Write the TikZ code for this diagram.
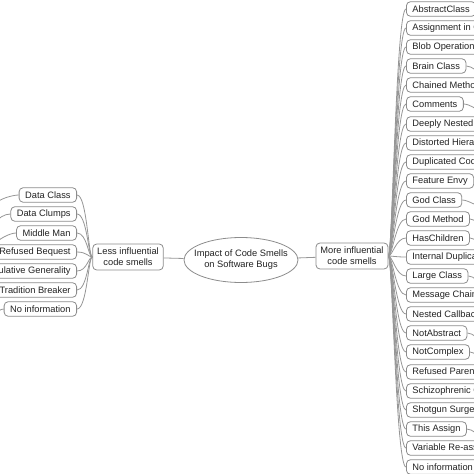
\documentclass[tikz,border=0pt]{standalone}
\usepackage{fontspec}
\setmainfont{Liberation Sans}
\usetikzlibrary{shapes.geometric}
\definecolor{mapline}{RGB}{150,150,150}
\definecolor{mapborder}{RGB}{140,140,140}
\definecolor{maptext}{RGB}{35,35,35}

\begin{document}
\begin{tikzpicture}[
    x=1pt, y=-1pt,
    topic/.style={ellipse, draw=mapborder, fill=white, line width=0.8pt,
                  minimum width=114pt, minimum height=45pt, inner xsep=-7pt,
                  inner ysep=0pt, align=center, text=maptext,
                  font=\fontsize{9.3}{11}\selectfont},
    branch/.style={rectangle, rounded corners=4pt, draw=mapborder, fill=white,
                   line width=0.8pt, minimum height=26pt, inner xsep=4.5pt,
                   align=center, text=maptext, font=\fontsize{9.3}{11}\selectfont},
    leaf/.style={rectangle, rounded corners=4pt, draw=mapborder, fill=white,
                 line width=0.8pt, minimum height=14.5pt, inner xsep=6pt,
                 inner ysep=1pt, text=maptext, font=\fontsize{9.3}{10}\selectfont},
    lleaf/.style={leaf, anchor=east},
    rleaf/.style={leaf, anchor=west},
    link/.style={draw=mapline, line width=0.8pt},
]
\useasboundingbox (0,0) rectangle (474,474);
\clip (0,0) rectangle (474,474);

% centre and the two branches
\node[topic] (impact) at (241,260) {Impact of Code Smells\\on Software Bugs};
\node[branch] (less) at (128,257) {Less influential\\code smells};
\node[branch] (more) at (352,256) {More influential\\code smells};

% less influential
\node[lleaf] (dataclass) at (77,195) {Data Class};
\node[lleaf] (clumps) at (77,214) {Data Clumps};
\node[lleaf] (middle) at (77,233) {Middle Man};
\node[lleaf] (bequest) at (77,252) {Refused Bequest};
\node[lleaf] (specgen) at (77,271) {Speculative Generality};
\node[lleaf] (tradition) at (77,290) {Tradition Breaker};
\node[lleaf] (noinfoL) at (77,309) {No information};

% more influential
\node[rleaf] (abstract) at (406,9) {AbstractClass};
\node[rleaf] (assign) at (406,28) {Assignment in Conditional Statements};
\node[rleaf] (blob) at (406,47) {Blob Operation};
\node[rleaf] (brain) at (406,66) {Brain Class};
\node[rleaf] (chained) at (406,85) {Chained Methods};
\node[rleaf] (comments) at (406,104) {Comments};
\node[rleaf] (deeply) at (406,124) {Deeply Nested Code};
\node[rleaf] (distorted) at (406,143) {Distorted Hierarchy};
\node[rleaf] (duplicated) at (406,162) {Duplicated Code};
\node[rleaf] (envy) at (406,181) {Feature Envy};
\node[rleaf] (godclass) at (406,200) {God Class};
\node[rleaf] (godmethod) at (406,219) {God Method};
\node[rleaf] (children) at (406,238) {HasChildren};
\node[rleaf] (internal) at (406,257) {Internal Duplication};
\node[rleaf] (large) at (406,276) {Large Class};
\node[rleaf] (message) at (406,295) {Message Chains};
\node[rleaf] (callback) at (406,314) {Nested Callbacks};
\node[rleaf] (notabstract) at (406,333) {NotAbstract};
\node[rleaf] (notcomplex) at (406,352) {NotComplex};
\node[rleaf] (refparent) at (406,372) {Refused Parent Bequest};
\node[rleaf] (schizo) at (406,391) {Schizophrenic Class};
\node[rleaf] (shotgun) at (406,410) {Shotgun Surgery};
\node[rleaf] (thisassign) at (406,429) {This Assign};
\node[rleaf] (reassign) at (406,448) {Variable Re-assign};
\node[rleaf] (noinfoR) at (406,467) {No information};

% ends of the branches that leave the picture
\coordinate (dataclass-t) at (-6,205);
\coordinate (clumps-t) at (-6,224);
\coordinate (middle-t) at (-6,245);
\coordinate (noinfoL-t) at (-6,316);
\coordinate (brain-t) at (482,73);
\coordinate (comments-t) at (482,111);
\coordinate (envy-t) at (482,188);
\coordinate (godclass-t) at (482,207);
\coordinate (godmethod-t) at (482,226);
\coordinate (children-t) at (482,245);
\coordinate (large-t) at (482,283);
\coordinate (notabstract-t) at (482,340);
\coordinate (notcomplex-t) at (482,359);
\coordinate (thisassign-t) at (482,436);

\draw[link] (less) -- (impact);
\draw[link] (impact) -- (more);

\draw[link] (less.west) .. controls +(-4,0) and +(10,0) .. (dataclass.east);
\draw[link] (less.west) .. controls +(-4,0) and +(10,0) .. (clumps.east);
\draw[link] (less.west) .. controls +(-4,0) and +(10,0) .. (middle.east);
\draw[link] (less.west) .. controls +(-4,0) and +(10,0) .. (bequest.east);
\draw[link] (less.west) .. controls +(-4,0) and +(10,0) .. (specgen.east);
\draw[link] (less.west) .. controls +(-4,0) and +(10,0) .. (tradition.east);
\draw[link] (less.west) .. controls +(-4,0) and +(10,0) .. (noinfoL.east);

\draw[link] (more.east) .. controls +(4,0) and +(-10,0) .. (abstract.west);
\draw[link] (more.east) .. controls +(4,0) and +(-10,0) .. (assign.west);
\draw[link] (more.east) .. controls +(4,0) and +(-10,0) .. (blob.west);
\draw[link] (more.east) .. controls +(4,0) and +(-10,0) .. (brain.west);
\draw[link] (more.east) .. controls +(4,0) and +(-10,0) .. (chained.west);
\draw[link] (more.east) .. controls +(4,0) and +(-10,0) .. (comments.west);
\draw[link] (more.east) .. controls +(4,0) and +(-10,0) .. (deeply.west);
\draw[link] (more.east) .. controls +(4,0) and +(-10,0) .. (distorted.west);
\draw[link] (more.east) .. controls +(4,0) and +(-10,0) .. (duplicated.west);
\draw[link] (more.east) .. controls +(4,0) and +(-10,0) .. (envy.west);
\draw[link] (more.east) .. controls +(4,0) and +(-10,0) .. (godclass.west);
\draw[link] (more.east) .. controls +(4,0) and +(-10,0) .. (godmethod.west);
\draw[link] (more.east) .. controls +(4,0) and +(-10,0) .. (children.west);
\draw[link] (more.east) .. controls +(4,0) and +(-10,0) .. (internal.west);
\draw[link] (more.east) .. controls +(4,0) and +(-10,0) .. (large.west);
\draw[link] (more.east) .. controls +(4,0) and +(-10,0) .. (message.west);
\draw[link] (more.east) .. controls +(4,0) and +(-10,0) .. (callback.west);
\draw[link] (more.east) .. controls +(4,0) and +(-10,0) .. (notabstract.west);
\draw[link] (more.east) .. controls +(4,0) and +(-10,0) .. (notcomplex.west);
\draw[link] (more.east) .. controls +(4,0) and +(-10,0) .. (refparent.west);
\draw[link] (more.east) .. controls +(4,0) and +(-10,0) .. (schizo.west);
\draw[link] (more.east) .. controls +(4,0) and +(-10,0) .. (shotgun.west);
\draw[link] (more.east) .. controls +(4,0) and +(-10,0) .. (thisassign.west);
\draw[link] (more.east) .. controls +(4,0) and +(-10,0) .. (reassign.west);
\draw[link] (more.east) .. controls +(4,0) and +(-10,0) .. (noinfoR.west);

% tails
\draw[link] (dataclass.west) .. controls +(-6,0) and +(4,-6) .. (dataclass-t);
\draw[link] (clumps.west) .. controls +(-6,0) and +(4,-6) .. (clumps-t);
\draw[link] (middle.west) .. controls +(-6,0) and +(4,-6) .. (middle-t);
\draw[link] (noinfoL.west) .. controls +(-4,0) and +(4,-4) .. (noinfoL-t);
\draw[link] (brain.east) .. controls +(6,0) and +(-4,0) .. (brain-t);
\draw[link] (comments.east) .. controls +(6,0) and +(-4,0) .. (comments-t);
\draw[link] (envy.east) .. controls +(6,0) and +(-4,0) .. (envy-t);
\draw[link] (godclass.east) .. controls +(6,0) and +(-4,0) .. (godclass-t);
\draw[link] (godmethod.east) .. controls +(6,0) and +(-4,0) .. (godmethod-t);
\draw[link] (children.east) .. controls +(6,0) and +(-4,0) .. (children-t);
\draw[link] (large.east) .. controls +(6,0) and +(-4,0) .. (large-t);
\draw[link] (notabstract.east) .. controls +(6,0) and +(-4,0) .. (notabstract-t);
\draw[link] (notcomplex.east) .. controls +(6,0) and +(-4,0) .. (notcomplex-t);
\draw[link] (thisassign.east) .. controls +(6,0) and +(-4,0) .. (thisassign-t);

\end{tikzpicture}
\end{document}
